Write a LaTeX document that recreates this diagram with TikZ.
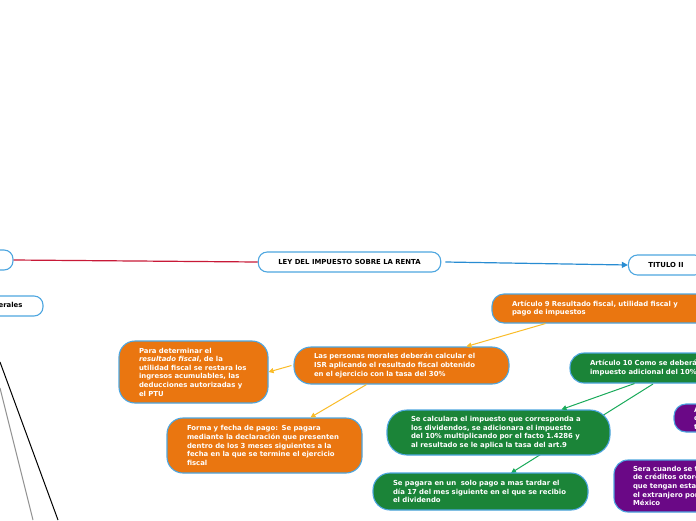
\documentclass[tikz,border=0pt]{standalone}
\usepackage{fontspec}
\setmainfont{DejaVu Sans}
\usetikzlibrary{arrows.meta}
\definecolor{bord}{RGB}{77,166,224}
\definecolor{orng}{RGB}{234,118,16}
\definecolor{grn}{RGB}{27,132,56}
\definecolor{prp}{RGB}{106,8,134}
\definecolor{redl}{RGB}{200,25,55}
\definecolor{bluel}{RGB}{40,140,210}
\definecolor{yell}{RGB}{250,188,40}
\definecolor{grnl}{RGB}{25,170,90}
\begin{document}
\begin{tikzpicture}[x=1pt,y=-1pt,
  box/.style={draw=bord,line width=1.1pt,rounded corners=#1,inner xsep=20pt,inner ysep=0pt,
    align=left,font=\fontsize{6.9}{8.6}\selectfont\bfseries},
  box/.default=10pt,
  wbox/.style={box=9pt,fill=white,text=black,align=center,minimum height=20pt},
  obox/.style={box=#1,fill=orng,text=white},
  gbox/.style={box=#1,fill=grn,text=white},
  pbox/.style={box=#1,fill=prp,text=white},
  yarr/.style={draw=yell,line width=1pt,-{Triangle[length=5pt,width=5pt]}},
  garr/.style={draw=grnl,line width=1pt,-{Triangle[length=5pt,width=5pt]}},
]
\useasboundingbox (0,0) rectangle (696,520);
\clip (0,0) rectangle (696,520);
\fill[white] (0,0) rectangle (696,520);

% side lines to off-picture nodes
\coordinate (b1) at (0,362);
\coordinate (b2) at (58,520);
\coordinate (g1) at (0,388);
\coordinate (g2) at (33,520);
\draw[line width=1pt,black] (b1) -- (b2);
\draw[line width=1pt,gray!85] (g1) -- (g2);

% white nodes
\node[wbox,minimum width=106pt] (n0) at (-40,260) {};
\node[wbox,minimum width=179pt] (ley) at (349.5,262) {LEY DEL IMPUESTO SOBRE LA RENTA};
\node[wbox,minimum width=70pt] (tit) at (666,265) {TITULO II};
\node[wbox,minimum width=135pt] (gen) at (-24.5,306) {Disposiciones generales};

\draw[redl,line width=1.2pt] (n0.east) -- (ley.west);
\draw[bluel,line width=1.2pt,-{Triangle[length=6pt,width=6pt]}] ([xshift=4pt]ley.east) -- (tit.west);

% connector behind the green nodes
\coordinate (a10b) at (653,384);
\coordinate (pgt) at (511,473);
\draw[garr] (a10b) -- (pgt);

% orange nodes
\node[obox=12pt,text width=188pt,minimum height=29pt] (art9) at (606,308.5)
  {Artículo 9 Resultado fiscal, utilidad fiscal y\\pago de impuestos};
\node[obox=17pt,text width=175pt,minimum height=37pt] (pers) at (401.5,365.5)
  {Las personas morales deberán calcular el\\ISR aplicando el resultado fiscal obtenido\\en el ejercicio con la tasa del 30\%};
\node[obox=16pt,text width=109pt,minimum height=62pt] (para) at (193.5,372)
  {Para determinar el\\\textit{resultado fiscal}, de la\\utilidad fiscal se restara los\\ingresos acumulables, las\\deducciones autorizadas y\\el PTU};
\node[obox=16pt,text width=155pt,minimum height=55pt] (forma) at (264.5,445.5)
  {Forma y fecha de pago: Se pagara\\mediante la declaración que presenten\\dentro de los 3 meses siguientes a la\\fecha en la que se termine el ejercicio\\fiscal};

% green nodes
\node[gbox=14pt,text width=170pt,minimum height=30pt] (art10) at (675,368)
  {Artículo 10 Como se deberá pagar el\\impuesto adicional del 10\%};
\node[gbox=20pt,inner xsep=24pt,text width=175pt,minimum height=45pt] (calc) at (498.5,432.5)
  {Se calculara el impuesto que corresponda a\\los dividendos, se adicionara el impuesto\\del 10\% multiplicando por el facto 1.4286 y\\al resultado se le aplica la tasa del art.9};
\node[gbox=17pt,text width=175pt,minimum height=37pt] (pag) at (480.5,491.5)
  {Se pagara en un\ \ solo pago a mas tardar el\\día 17 del mes siguiente en el que se recibio\\el dividendo};

% purple nodes
\node[pbox=12pt,inner xsep=20pt,text width=46pt,minimum height=28pt] (p1) at (717,418)
  {Artículo 11\\de los intereses};
\node[pbox=14pt,inner xsep=19pt,text width=150pt,minimum height=52pt] (p2) at (708,486)
  {Sera cuando se trate de intereses\\de créditos otorgados a personas\\que tengan establecimiento en\\el extranjero por residentes en\\México};

% arrows
\draw[yarr] ([xshift=54pt]art9.south west) -- ([xshift=173pt]pers.north west);
\draw[yarr] ([xshift=-2pt]pers.west) -- (para.east);
\draw[yarr] ([xshift=73pt]pers.south west) -- ([xshift=144pt]forma.north west);
\draw[garr] ([xshift=65pt]art10.south west) -- ([xshift=175pt]calc.north west);
\end{tikzpicture}
\end{document}
